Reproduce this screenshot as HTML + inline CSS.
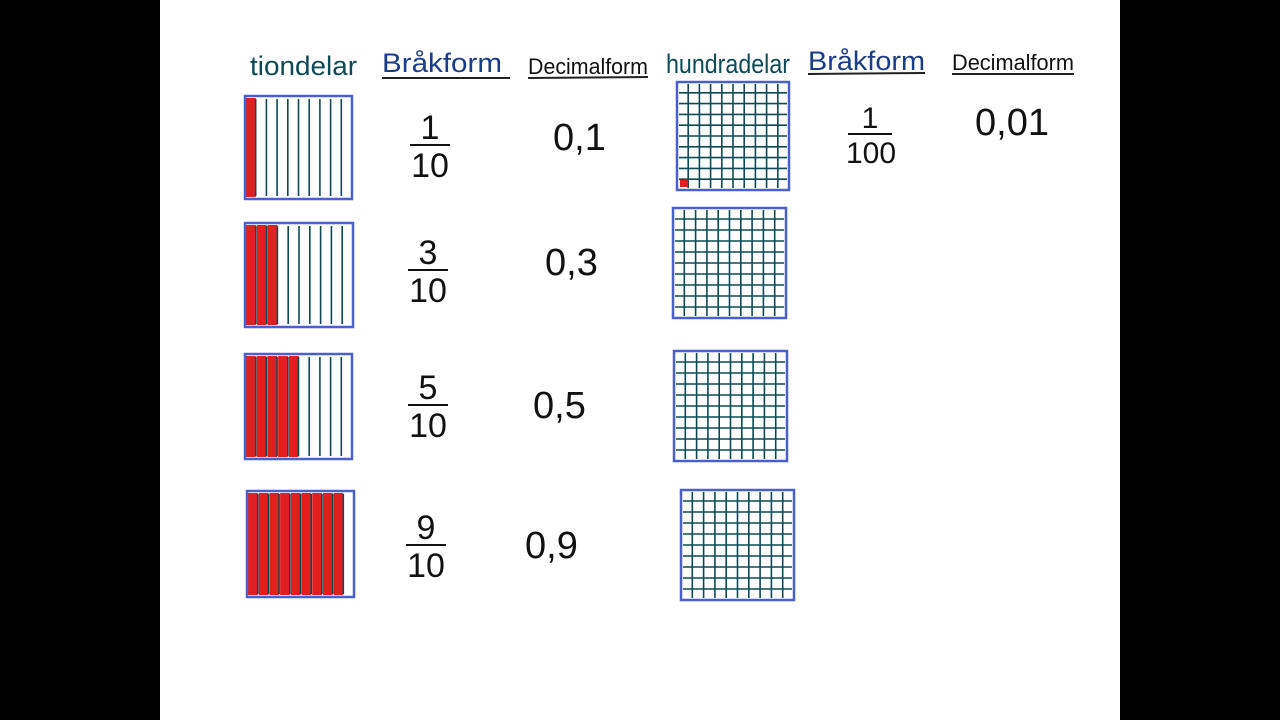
<!DOCTYPE html>
<html><head><meta charset="utf-8"><style>
html,body{margin:0;padding:0;background:#000;}
#wrap{position:relative;width:1280px;height:720px;background:#000;overflow:hidden;}
svg{position:absolute;left:0;top:0;}
text{font-family:"Liberation Sans",sans-serif;}
</style></head><body>
<div id="wrap">
<svg id="s" width="1280" height="720">
<rect x="160" y="0" width="960" height="720" fill="#fff"/>
<g id="hdr" fill="#0d4a56" font-size="27">
<text x="250" y="75" textLength="107" lengthAdjust="spacingAndGlyphs">tiondelar</text>
<text x="382" y="72" textLength="120" lengthAdjust="spacingAndGlyphs" fill="#1b3c8a">Bråkform</text>
<text x="528" y="74" font-size="22" textLength="120" lengthAdjust="spacingAndGlyphs" fill="#111">Decimalform</text>
<text x="666" y="73" textLength="124" lengthAdjust="spacingAndGlyphs">hundradelar</text>
<text x="808" y="70" textLength="117" lengthAdjust="spacingAndGlyphs" fill="#1b3c8a">Bråkform</text>
<text x="952" y="70" font-size="22" textLength="122" lengthAdjust="spacingAndGlyphs" fill="#111">Decimalform</text>
<path d="M382 78 L510 78 M528 78 L648 77 M808 74 L925 73 M952 74 L1074 74" stroke="#222" stroke-width="2" fill="none"/>
</g>
</svg>
</div>
<script>
const numerators = [1, 3, 5, 9];
const denominator = 10;
const decimals = ["0,1", "0,3", "0,5", "0,9"];
const hundredthsShaded = [1, 0, 0, 0];
const rowTens = [[245,96,107,103],[245,223,108,104],[245,354,107,105],[247,491,107,106]];
const rowHund = [[677,82,112,108],[673,208,113,110],[674,351,113,110],[681,490,113,110]];
const fracX = [430,428,428,426], fracY = [125,250,385,525];
const decX = [553,545,533,525], decY = [150,275,418,558];
const NS='http://www.w3.org/2000/svg';
const svg=document.getElementById('s');
function el(t,a,p){const e=document.createElementNS(NS,t);for(const k in a)e.setAttribute(k,a[k]);(p||svg).appendChild(e);return e;}
numerators.forEach((n,i)=>{
  const [x,y,w,h]=rowTens[i];
  const g=el('g',{});
  
  
  const cw=w/denominator;
  for(let c=0;c<n;c++){
    const r=el('rect',{x:x+c*cw+1,y:y+2,width:cw-1,height:h-4,fill:'#e02020'},g);
    
    
  }
  for(let c=1;c<denominator;c++) el('line',{x1:x+c*cw,y1:y+3,x2:x+c*cw,y2:y+h-3,stroke:'#0d4a56','stroke-width':1.6},g);
  el('rect',{x:x,y:y,width:w,height:h,fill:'none',stroke:'#4a5fd0','stroke-width':2.5},g);
  const f=el('g',{fill:'#111','font-size':34,'text-anchor':'middle'});
  
  
  el('text',{x:fracX[i],y:fracY[i]+14},f).textContent=n;
  el('line',{x1:fracX[i]-20,y1:fracY[i]+20,x2:fracX[i]+20,y2:fracY[i]+20,stroke:'#111','stroke-width':2},f);
  el('text',{x:fracX[i],y:fracY[i]+52},f).textContent=denominator;
  const d=el('text',{x:decX[i],y:decY[i],'font-size':38,fill:'#111'});
  
  
  d.textContent=decimals[i];
  const [hx,hy,hw,hh]=rowHund[i];
  const hg=el('g',{});
  
  
  for(let c=1;c<10;c++){
    el('line',{x1:hx+c*hw/10,y1:hy+2,x2:hx+c*hw/10,y2:hy+hh-2,stroke:'#0d4a56','stroke-width':1.6},hg);
    el('line',{x1:hx+2,y1:hy+c*hh/10,x2:hx+hw-2,y2:hy+c*hh/10,stroke:'#0d4a56','stroke-width':1.6},hg);
  }
  for(let k=0;k<hundredthsShaded[i];k++) el('rect',{x:hx+3+k*hw/10,y:hy+hh-10,width:hw/10-3,height:7,fill:'#e02020'},hg);
  el('rect',{x:hx,y:hy,width:hw,height:hh,fill:'none',stroke:'#4a5fd0','stroke-width':2.5},hg);
});
const f2=el('g',{fill:'#111','font-size':30,'text-anchor':'middle'});


el('text',{x:870,y:128},f2).textContent='1';
el('line',{x1:848,y1:134,x2:892,y2:134,stroke:'#111','stroke-width':2},f2);
el('text',{x:871,y:163},f2).textContent='100';
const d2=el('text',{x:975,y:135,'font-size':38,fill:'#111'});


d2.textContent='0,01';
</script>
</body></html>
